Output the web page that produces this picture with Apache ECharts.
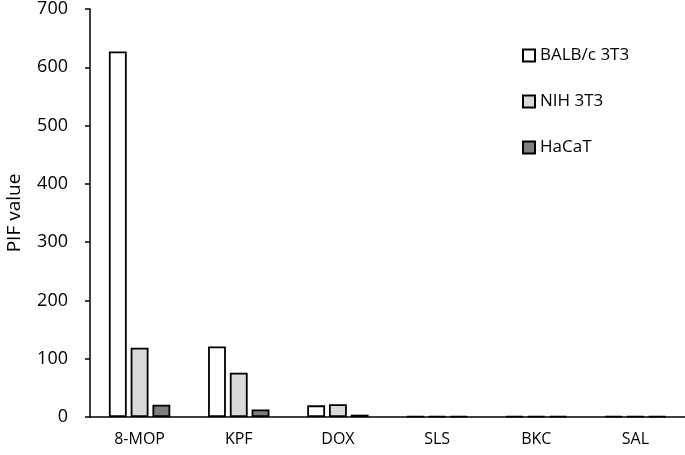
<!DOCTYPE html>
<html style="height: 100%">

<head>
    <meta charset="utf-8">
</head>

<body style="height: 100%; margin: 0; background: #fff">
    <div id="container" style="width: 685px; height: 455px">
    </div>

    <script src="https://cdn.jsdelivr.net/npm/echarts@6/dist/echarts.min.js" type="text/javascript"></script>

    <script type="text/javascript">
        var categories = ['8-MOP', 'KPF', 'DOX', 'SLS', 'BKC', 'SAL'];
        var balb = [627, 121, 20, 1.5, 1.5, 1.5];
        var nih = [119, 76, 22, 1.5, 1.5, 1.5];
        var hacat = [21, 13, 4, 1.5, 1.5, 1.5];
        var yTicks = [0, 100, 200, 300, 400, 500, 600, 700];

        var dom = document.getElementById("container");
        var myChart = echarts.init(dom);
        var font = '"Open Sans", sans-serif';

        function barSeries(name, data, color) {
            return {
                name: name,
                type: 'bar',
                data: data,
                barWidth: '18%',
                barGap: '22%',
                itemStyle: {
                    color: color,
                    borderColor: '#000',
                    borderWidth: 1.8,
                    borderRadius: 0
                }
            };
        }

        var option = {
            animation: false,
            grid: { left: 90, right: 0, top: 9, bottom: 38, outerBoundsMode: 'none', containLabel: false },
            legend: {
                orient: 'vertical',
                left: 517,
                top: 42,
                icon: 'rect',
                itemWidth: 12,
                itemHeight: 12,
                itemGap: 29,
                textStyle: { fontFamily: font, fontSize: 17, color: '#000' },
                data: ['BALB/c 3T3', 'NIH 3T3', 'HaCaT']
            },
            xAxis: {
                type: 'category',
                data: categories,
                axisLine: { lineStyle: { color: '#000', width: 1.5 } },
                axisTick: { show: false },
                axisLabel: { fontFamily: font, fontSize: 16, color: '#000', margin: 14 }
            },
            yAxis: {
                type: 'value',
                min: yTicks[0],
                max: yTicks[yTicks.length - 1],
                interval: 100,
                name: 'PIF value',
                nameLocation: 'middle',
                nameGap: 66,
                nameTextStyle: { fontFamily: font, fontSize: 19, color: '#000' },
                axisLine: { show: true, lineStyle: { color: '#000', width: 1.5 } },
                axisTick: { show: true, length: 5, lineStyle: { color: '#000', width: 1.5 } },
                axisLabel: { fontFamily: font, fontSize: 18, color: '#000', margin: 22 },
                splitLine: { show: false }
            },
            series: [
                barSeries('BALB/c 3T3', balb, '#ffffff'),
                barSeries('NIH 3T3', nih, '#d9d9d9'),
                barSeries('HaCaT', hacat, '#7f7f7f')
            ]
        };

        myChart.setOption(option);
    </script>
</body>

</html>
